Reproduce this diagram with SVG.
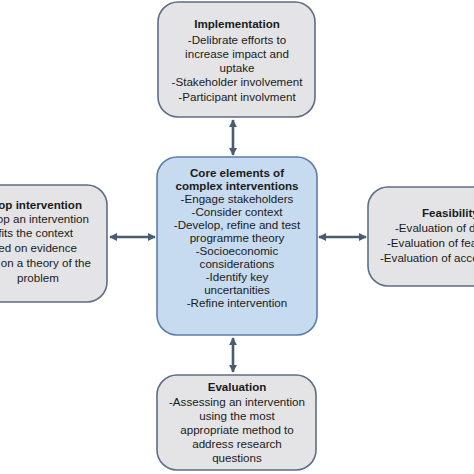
<svg xmlns="http://www.w3.org/2000/svg" width="474" height="474" viewBox="0 0 474 474">
<defs>
<style>
.grey{fill:#e4e4e6;stroke:#5d6e85;stroke-width:1.6}
.blue{fill:#c6daf0;stroke:#5d7ea6;stroke-width:1.6}
text{font-family:"Liberation Sans",Arial,sans-serif;font-size:11.6px;fill:#1a1a1a}
.t{font-weight:bold}
.c{text-anchor:middle}
.e{text-anchor:end}
.conn{stroke:#4a5b72;stroke-width:2.6;fill:none;marker-start:url(#ah);marker-end:url(#ah)}
</style>
<marker id="ah" viewBox="0 0 10 10" refX="9" refY="5" markerWidth="3.2" markerHeight="3.2" orient="auto-start-reverse" markerUnits="strokeWidth">
<path d="M0,0 L10,5 L0,10 z" fill="#4a5b72"/>
</marker>
</defs>
<rect width="474" height="474" fill="#fff"/>
<g id="connectors">
<line class="conn" x1="233" y1="120" x2="233" y2="155"/>
<line class="conn" x1="233" y1="338" x2="233" y2="372"/>
<line class="conn" x1="110" y1="237" x2="155" y2="237"/>
<line class="conn" x1="319" y1="237" x2="366" y2="237"/>
</g>
<g id="implementation">
<rect class="grey" x="158" y="2" width="157" height="115" rx="20"/>
<text class="c t" x="237" y="28">Implementation</text>
<text class="c" x="237" y="44">-Delibrate efforts to</text>
<text class="c" x="237" y="58">increase impact and</text>
<text class="c" x="237" y="72">uptake</text>
<text class="c" x="237" y="86">-Stakeholder involvement</text>
<text class="c" x="237" y="101">-Participant involvment</text>
</g>
<g id="core">
<rect class="blue" x="157" y="157" width="160" height="178" rx="20"/>
<text class="c t" x="237" y="177">Core elements of</text>
<text class="c t" x="237" y="190">complex interventions</text>
<text class="c" x="237" y="203">-Engage stakeholders</text>
<text class="c" x="237" y="216">-Consider context</text>
<text class="c" x="237" y="229">-Develop, refine and test</text>
<text class="c" x="237" y="242">programme theory</text>
<text class="c" x="237" y="255">-Socioeconomic</text>
<text class="c" x="237" y="268">considerations</text>
<text class="c" x="237" y="281">-Identify key</text>
<text class="c" x="237" y="294">uncertanities</text>
<text class="c" x="237" y="307">-Refine intervention</text>
</g>
<g id="develop">
<rect class="grey" x="-40" y="185" width="147" height="117" rx="20"/>
<text class="e t" x="82" y="209">Develop intervention</text>
<text class="e" x="89" y="223">-Develop an intervention</text>
<text class="e" x="73" y="237">that fits the context</text>
<text class="e" x="77" y="252">based on evidence</text>
<text class="e" x="91" y="267">and on a theory of the</text>
<text class="c" x="38" y="282">problem</text>
</g>
<g id="feasibility">
<rect class="grey" x="368" y="187" width="172" height="99" rx="20"/>
<text class="t" x="422" y="217">Feasibility</text>
<text x="395" y="232">-Evaluation of d</text>
<text x="387" y="247">-Evaluation of fea</text>
<text x="380" y="262">-Evaluation of acce</text>
</g>
<g id="evaluation">
<rect class="grey" x="157" y="375" width="159" height="95" rx="20"/>
<text class="c t" x="237" y="391">Evaluation</text>
<text class="c" x="237" y="406">-Assessing an intervention</text>
<text class="c" x="237" y="420">using the most</text>
<text class="c" x="237" y="434">appropriate method to</text>
<text class="c" x="237" y="448">address research</text>
<text class="c" x="237" y="462">questions</text>
</g>
</svg>
